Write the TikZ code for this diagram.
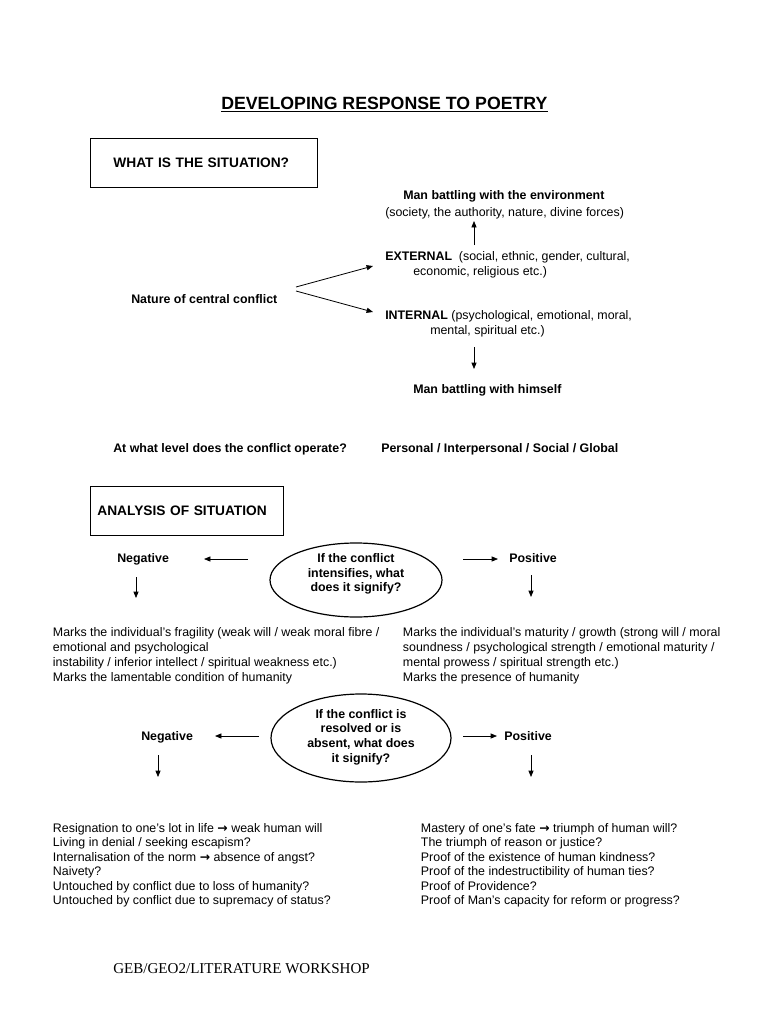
\documentclass[tikz,border=0pt]{standalone}
\usepackage{fontspec}
\setmainfont{Liberation Sans}
\newfontfamily\footfont{Liberation Serif}
\newfontfamily\symfont{DejaVu Sans}
\usetikzlibrary{arrows.meta,shapes.geometric}
\newcommand{\myarr}{{\symfont\fontsize{9.3}{9.3}\selectfont\bfseries →}}
\begin{document}
\begin{tikzpicture}[x=0.75pt,y=-0.75pt,
  reg/.style={inner sep=0pt,anchor=base west,font=\fontsize{9.3}{11.2}\selectfont},
  bold/.style={inner sep=0pt,anchor=base west,font=\fontsize{9.3}{11.2}\selectfont\bfseries},
  head/.style={draw,line width=0.6pt,anchor=north west,align=left,font=\fontsize{10.3}{12}\selectfont\bfseries,minimum height=36.75pt,inner ysep=0pt},
  oval/.style={draw,ellipse,line width=0.9pt,inner sep=0pt},
  ovaltext/.style={inner sep=0pt,align=center,font=\fontsize{9.3}{10.8}\selectfont\bfseries},
  arw/.style={line width=0.6pt,-{Triangle[length=4.8pt,width=3.8pt]}}
]
\useasboundingbox[fill=white] (0,0) rectangle (768,1024);

% title
\node[inner sep=0pt,anchor=base west,font=\fontsize{13.3}{16}\selectfont\bfseries] (title) at (221,109) {DEVELOPING RESPONSE TO POETRY\ };
\draw[line width=0.9pt] ([yshift=-2pt]title.base west) -- ([yshift=-2pt]title.base east);

% box 1
\node[head,inner xsep=17.25pt,text width=135.75pt] (box1) at (90,138) {WHAT IS THE SITUATION?};

% top right part
\node[bold] (env) at (403,199) {Man battling with the environment};
\node[reg] (envsub) at (385,216) {(society, the authority, nature, divine forces)};
\node[reg] (ext) at (385,260) {\textbf{EXTERNAL}\ \ (social, ethnic, gender, cultural,};
\node[reg] (ext2) at (413,275) {economic, religious etc.)};
\node[reg] (int) at (385,319) {\textbf{INTERNAL} (psychological, emotional, moral,};
\node[reg] (int2) at (430,334) {mental, spiritual etc.)};
\node[bold] (self) at (413,393) {Man battling with himself};
\node[bold] (nature) at (131,303) {Nature of central conflict};

\coordinate (upS) at (474,245);
\coordinate (upE) at (474,221);
\coordinate (dnS) at (474,347);
\coordinate (dnE) at (474,369);
\coordinate (n1) at (296,287);
\coordinate (n2) at (296,291);
\coordinate (e1) at (373,266);
\coordinate (i1) at (373,312);
\draw[arw] (upS) -- (upE);
\draw[arw] (dnS) -- (dnE);
\draw[arw] (n1) -- (e1);
\draw[arw] (n2) -- (i1);

% level
\node[bold] (lvq) at (113,452) {At what level does the conflict operate?};
\node[bold] (lva) at (381,452) {Personal / Interpersonal / Social / Global};

% box 2
\node[head,inner xsep=5.25pt,text width=134.25pt] (box2) at (90,486) {ANALYSIS OF SITUATION};

% first ellipse
\node[oval,minimum width=129pt,minimum height=55.5pt] (q1) at (356,580) {};
\node[ovaltext] (q1t) at (356,574) {If the conflict\\intensifies, what\\does it signify?};
\node[bold] (neg1) at (117,562) {Negative};
\node[bold] (pos1) at (509,562) {Positive};
\coordinate (q1l) at (248,559);
\coordinate (neg1r) at (204,559);
\coordinate (q1r) at (463,559);
\coordinate (pos1l) at (498,559);
\draw[arw] (q1l) -- (neg1r);
\draw[arw] (q1r) -- (pos1l);
\coordinate (nd1s) at (136,577);
\coordinate (nd1e) at (136,598);
\coordinate (pd1s) at (531,575);
\coordinate (pd1e) at (531,597);
\draw[arw] (nd1s) -- (nd1e);
\draw[arw] (pd1s) -- (pd1e);

\foreach \t [count=\i] in {{Marks the individual’s fragility (weak will / weak moral fibre /},{emotional and psychological},{instability / inferior intellect / spiritual weakness etc.)},{Marks the lamentable condition of humanity}}
  \node[reg] (nl\i) at (52.7,{636+15*(\i-1)}) {\t};
\foreach \t [count=\i] in {{Marks the individual’s maturity / growth (strong will / moral},{soundness / psychological strength / emotional maturity /},{mental prowess / spiritual strength etc.)},{Marks the presence of humanity}}
  \node[reg] (pl\i) at (402.7,{636+15*(\i-1)}) {\t};

% second ellipse
\node[oval,minimum width=135pt,minimum height=66pt] (q2) at (361,738) {};
\node[ovaltext,font=\fontsize{9.3}{11}\selectfont\bfseries] (q2t) at (361,737) {If the conflict is\\resolved or is\\absent, what does\\it signify?};
\node[bold] (neg2) at (141,740) {Negative};
\node[bold] (pos2) at (504,740) {Positive};
\coordinate (q2l) at (259,736);
\coordinate (neg2r) at (215,736);
\coordinate (q2r) at (463,736);
\coordinate (pos2l) at (497,736);
\draw[arw] (q2l) -- (neg2r);
\draw[arw] (q2r) -- (pos2l);
\coordinate (nd2s) at (158,755);
\coordinate (nd2e) at (158,777);
\coordinate (pd2s) at (531,755);
\coordinate (pd2e) at (531,777);
\draw[arw] (nd2s) -- (nd2e);
\draw[arw] (pd2s) -- (pd2e);

\foreach \t [count=\i] in {{Resignation to one’s lot in life \myarr\ weak human will},{Living in denial / seeking escapism?},{Internalisation of the norm \myarr\ absence of angst?},{Naivety?},{Untouched by conflict due to loss of humanity?},{Untouched by conflict due to supremacy of status?}}
  \node[reg] (bl\i) at (52.7,{832+14.5*(\i-1)}) {\t};
\foreach \t [count=\i] in {{Mastery of one’s fate \myarr\ triumph of human will?},{The triumph of reason or justice?},{Proof of the existence of human kindness?},{Proof of the indestructibility of human ties?},{Proof of Providence?},{Proof of Man’s capacity for reform or progress?}}
  \node[reg] (br\i) at (420.7,{832+14.5*(\i-1)}) {\t};

% footer
\node[inner sep=0pt,anchor=base west,font=\footfont\fontsize{11.3}{13}\selectfont] (foot) at (113,973) {GEB/GEO2/LITERATURE WORKSHOP};
\end{tikzpicture}
\end{document}
